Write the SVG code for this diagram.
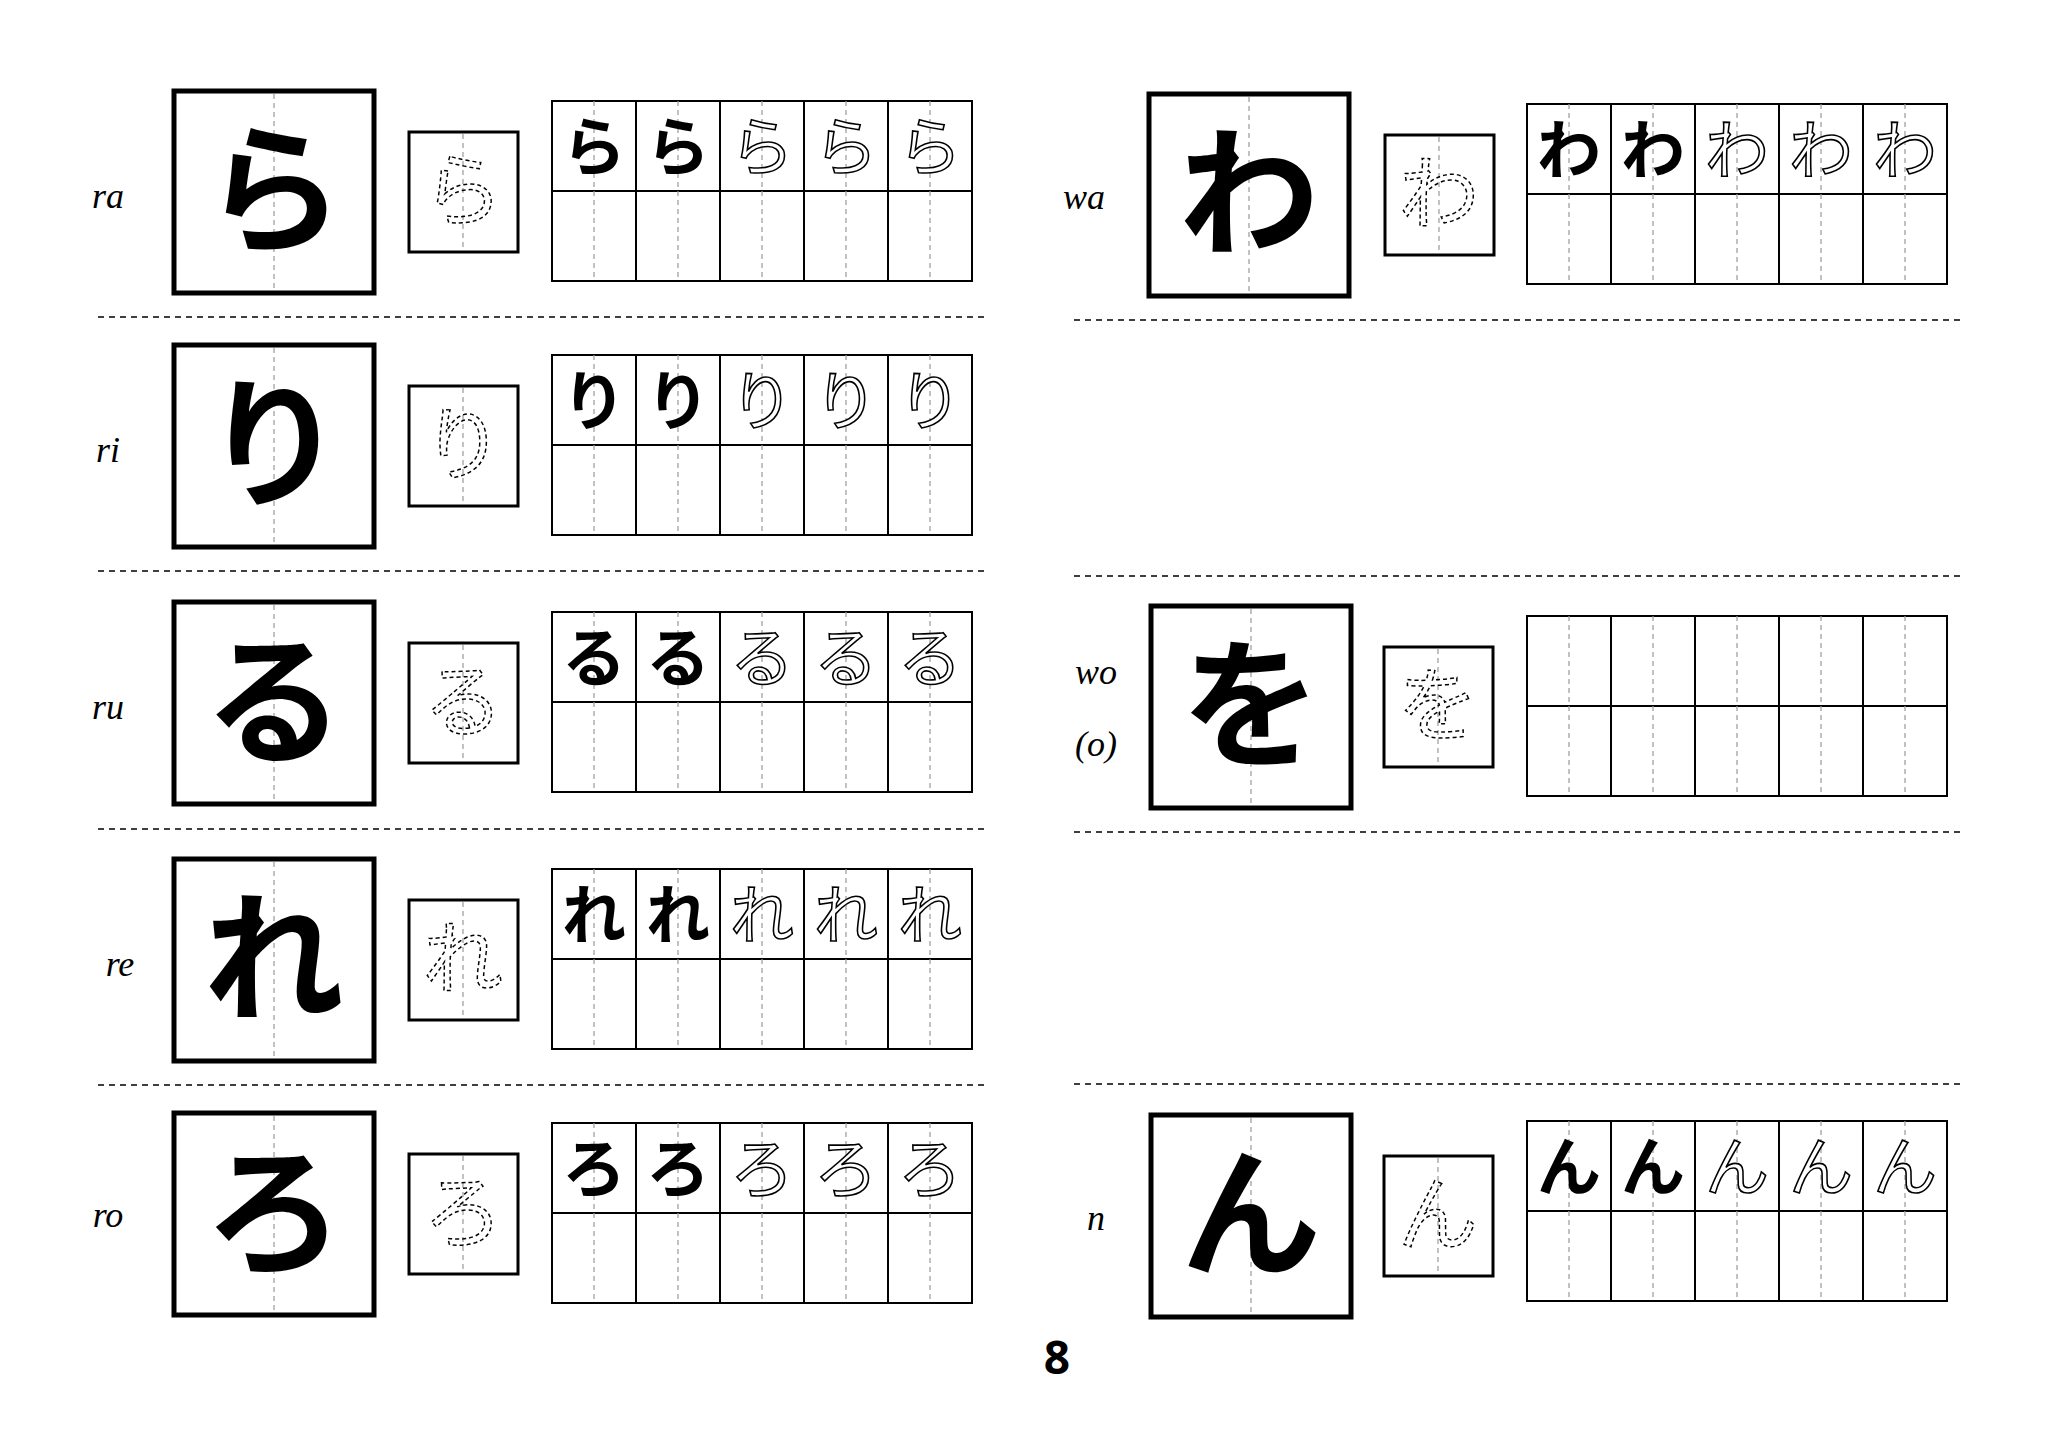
<svg xmlns="http://www.w3.org/2000/svg" xmlns:xlink="http://www.w3.org/1999/xlink" width="2048" height="1448" viewBox="0 0 2048 1448">
<style>
.k{font-family:"Noto Sans CJK JP",sans-serif;text-anchor:middle}
.big{font-size:140px;fill:#000;font-weight:bold}
.g1{font-size:64px;fill:#000;font-weight:bold}
.g2{font-size:64px;fill:#fff;stroke:#000;stroke-width:1.6}
.tr{font-size:80px;fill:none;stroke:#000;stroke-width:1.5;stroke-dasharray:4 3}
.lab{font-family:"Liberation Serif",serif;font-style:italic;font-size:36px;fill:#000;text-anchor:middle}
.sep{stroke:#000;stroke-width:1.6;stroke-dasharray:6 5}
.thin{fill:none;stroke:#000;stroke-width:2}
.gd{stroke:#999;stroke-width:1.2;stroke-dasharray:5 4}
</style>
<defs>
<g id="grid">
<rect x="0" y="0" width="420" height="180" class="thin"/>
<path d="M84 0V180M168 0V180M252 0V180M336 0V180M0 90H420" class="thin"/>
<path d="M42 0V180M126 0V180M210 0V180M294 0V180M378 0V180" class="gd"/>
</g>
<g id="bbox">
<rect x="0" y="0" width="200" height="202" fill="none" stroke="#000" stroke-width="5"/>
<path d="M100 3V199" class="gd"/>
</g>
<g id="sbox">
<rect x="0" y="0" width="109" height="120" fill="none" stroke="#000" stroke-width="3"/>
<path d="M54 2V118" class="gd"/>
</g>
</defs>
<g id="separators">
<line x1="98" y1="317" x2="987" y2="317" class="sep"/>
<line x1="98" y1="571" x2="987" y2="571" class="sep"/>
<line x1="98" y1="829" x2="987" y2="829" class="sep"/>
<line x1="98" y1="1085" x2="987" y2="1085" class="sep"/>
<line x1="1074" y1="320" x2="1963" y2="320" class="sep"/>
<line x1="1074" y1="576" x2="1963" y2="576" class="sep"/>
<line x1="1074" y1="832" x2="1963" y2="832" class="sep"/>
<line x1="1074" y1="1084" x2="1963" y2="1084" class="sep"/>
</g>
<g id="row-ra" transform="translate(0,91)">
<text x="108" y="117" class="lab">ra</text>
<use xlink:href="#bbox" x="174" y="0"/>
<text x="274" y="150" class="k big">ら</text>
<use xlink:href="#sbox" x="409" y="41"/>
<text x="463" y="128" class="k tr">ら</text>
<use xlink:href="#grid" x="552" y="10"/>
<g class="k"><text x="594" y="79" class="g1">ら</text><text x="678" y="79" class="g1">ら</text><text x="762" y="79" class="g2">ら</text><text x="846" y="79" class="g2">ら</text><text x="930" y="79" class="g2">ら</text></g>
</g>
<g id="row-ri" transform="translate(0,345)">
<text x="108" y="117" class="lab">ri</text>
<use xlink:href="#bbox" x="174" y="0"/>
<text x="274" y="150" class="k big">り</text>
<use xlink:href="#sbox" x="409" y="41"/>
<text x="463" y="128" class="k tr">り</text>
<use xlink:href="#grid" x="552" y="10"/>
<g class="k"><text x="594" y="79" class="g1">り</text><text x="678" y="79" class="g1">り</text><text x="762" y="79" class="g2">り</text><text x="846" y="79" class="g2">り</text><text x="930" y="79" class="g2">り</text></g>
</g>
<g id="row-ru" transform="translate(0,602)">
<text x="108" y="117" class="lab">ru</text>
<use xlink:href="#bbox" x="174" y="0"/>
<text x="274" y="150" class="k big">る</text>
<use xlink:href="#sbox" x="409" y="41"/>
<text x="463" y="128" class="k tr">る</text>
<use xlink:href="#grid" x="552" y="10"/>
<g class="k"><text x="594" y="79" class="g1">る</text><text x="678" y="79" class="g1">る</text><text x="762" y="79" class="g2">る</text><text x="846" y="79" class="g2">る</text><text x="930" y="79" class="g2">る</text></g>
</g>
<g id="row-re" transform="translate(0,859)">
<text x="120" y="117" class="lab">re</text>
<use xlink:href="#bbox" x="174" y="0"/>
<text x="274" y="150" class="k big">れ</text>
<use xlink:href="#sbox" x="409" y="41"/>
<text x="463" y="128" class="k tr">れ</text>
<use xlink:href="#grid" x="552" y="10"/>
<g class="k"><text x="594" y="79" class="g1">れ</text><text x="678" y="79" class="g1">れ</text><text x="762" y="79" class="g2">れ</text><text x="846" y="79" class="g2">れ</text><text x="930" y="79" class="g2">れ</text></g>
</g>
<g id="row-ro" transform="translate(0,1113)">
<text x="108" y="114" class="lab">ro</text>
<use xlink:href="#bbox" x="174" y="0"/>
<text x="274" y="150" class="k big">ろ</text>
<use xlink:href="#sbox" x="409" y="41"/>
<text x="463" y="128" class="k tr">ろ</text>
<use xlink:href="#grid" x="552" y="10"/>
<g class="k"><text x="594" y="79" class="g1">ろ</text><text x="678" y="79" class="g1">ろ</text><text x="762" y="79" class="g2">ろ</text><text x="846" y="79" class="g2">ろ</text><text x="930" y="79" class="g2">ろ</text></g>
</g>
<g id="row-wa" transform="translate(0,94)">
<text x="1084" y="115" class="lab">wa</text>
<use xlink:href="#bbox" x="1149" y="0"/>
<text x="1249" y="150" class="k big">わ</text>
<use xlink:href="#sbox" x="1385" y="41"/>
<text x="1439" y="128" class="k tr">わ</text>
<use xlink:href="#grid" x="1527" y="10"/>
<g class="k"><text x="1569" y="79" class="g1">わ</text><text x="1653" y="79" class="g1">わ</text><text x="1737" y="79" class="g2">わ</text><text x="1821" y="79" class="g2">わ</text><text x="1905" y="79" class="g2">わ</text></g>
</g>
<g id="row-wo" transform="translate(0,606)">
<text x="1096" y="78" class="lab">wo</text>
<text x="1096" y="150" class="lab">(o)</text>
<use xlink:href="#bbox" x="1151" y="0"/>
<text x="1251" y="150" class="k big">を</text>
<use xlink:href="#sbox" x="1384" y="41"/>
<text x="1438" y="128" class="k tr">を</text>
<use xlink:href="#grid" x="1527" y="10"/>
</g>
<g id="row-n" transform="translate(0,1115)">
<text x="1096" y="115" class="lab">n</text>
<use xlink:href="#bbox" x="1151" y="0"/>
<text x="1251" y="150" class="k big">ん</text>
<use xlink:href="#sbox" x="1384" y="41"/>
<text x="1438" y="128" class="k tr">ん</text>
<use xlink:href="#grid" x="1527" y="6"/>
<g class="k"><text x="1569" y="75" class="g1">ん</text><text x="1653" y="75" class="g1">ん</text><text x="1737" y="75" class="g2">ん</text><text x="1821" y="75" class="g2">ん</text><text x="1905" y="75" class="g2">ん</text></g>
</g>
<text x="1057" y="1374" font-family="Open Sans, sans-serif" font-weight="bold" font-size="46" text-anchor="middle">8</text>
</svg>
